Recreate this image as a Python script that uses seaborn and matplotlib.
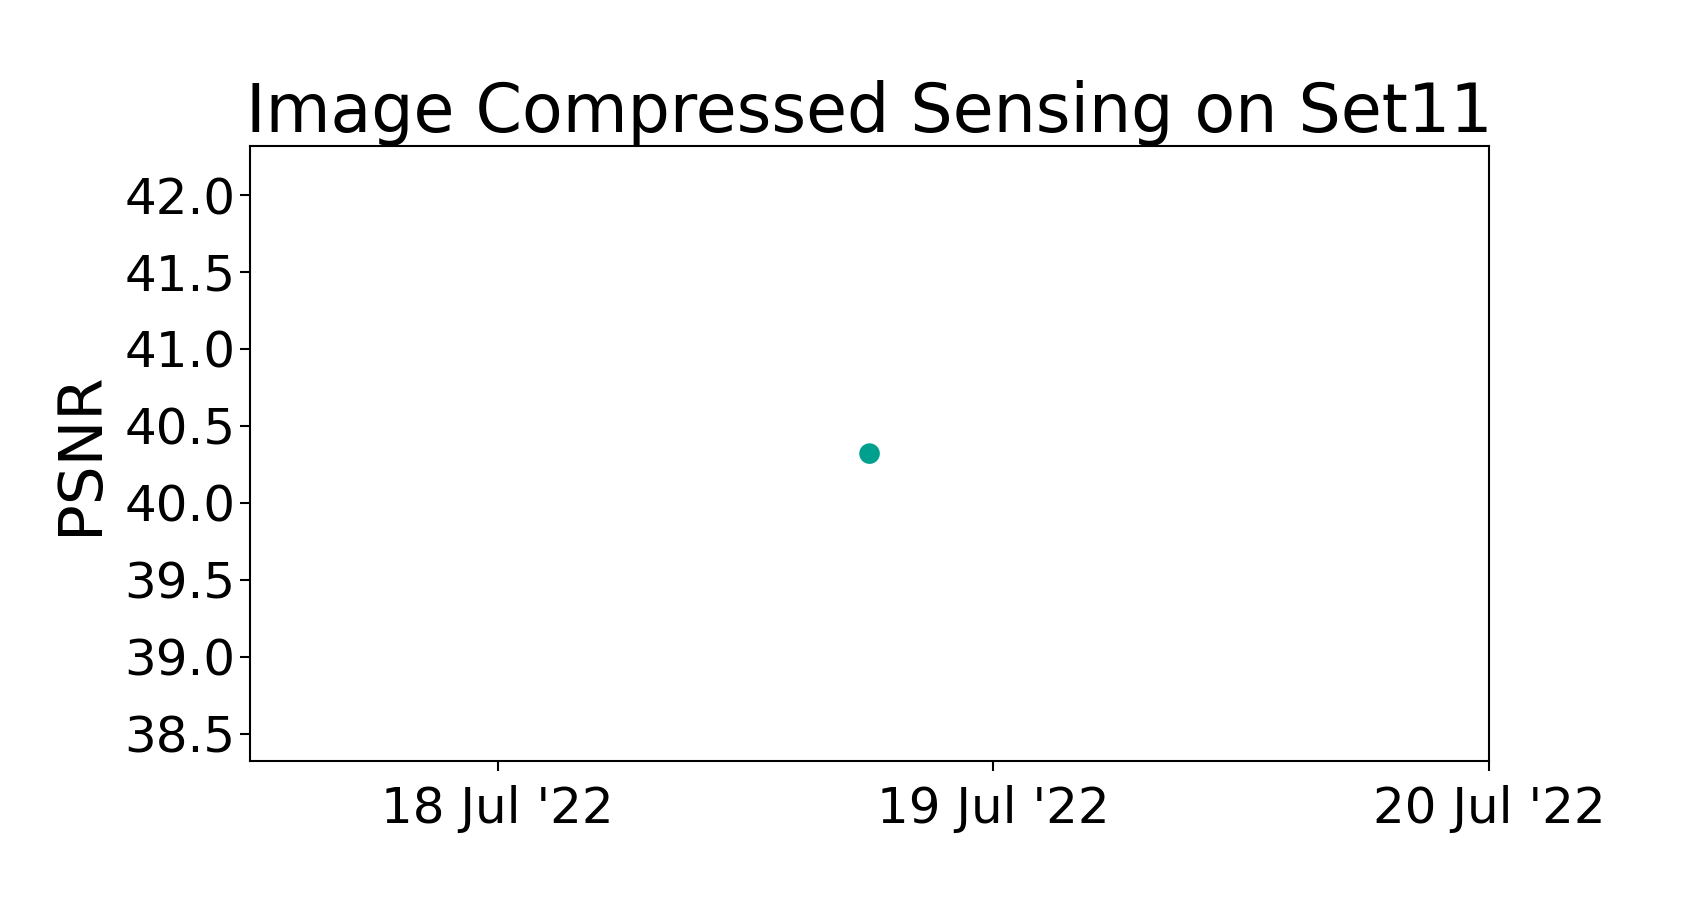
import seaborn as sns
import matplotlib.pyplot as plt
import matplotlib.dates as mdates
import matplotlib.ticker as mticker
import pandas as pd

# data
dates = ["2022-07-18 18:00"]
psnr = [40.32]
x_range = ["2022-07-17 12:00", "2022-07-20 00:00"]
tick_dates = ["2022-07-18", "2022-07-19", "2022-07-20"]

df = pd.DataFrame({"date": pd.to_datetime(dates), "PSNR": psnr})

sns.set_style("ticks")
plt.rcParams['font.family'] = ['DejaVu Sans']
plt.rcParams['text.color'] = 'black'
plt.rcParams['axes.labelcolor'] = 'black'
plt.rcParams['xtick.color'] = 'black'
plt.rcParams['ytick.color'] = 'black'
plt.rcParams['axes.edgecolor'] = 'black'

fig, ax = plt.subplots(figsize=(17, 9), dpi=100)
fig.subplots_adjust(left=0.147, right=0.876, top=0.838, bottom=0.154)

sns.scatterplot(data=df, x="date", y="PSNR", ax=ax, s=220, color="#00A08F",
                edgecolor="none", zorder=3)

ax.set_xlim(pd.to_datetime(x_range[0]), pd.to_datetime(x_range[1]))
ax.set_ylim(psnr[0] - 2, psnr[0] + 2)
ax.yaxis.set_major_locator(mticker.MultipleLocator(0.5))
ax.yaxis.set_major_formatter(mticker.FormatStrFormatter("%.1f"))
ax.set_xticks(pd.to_datetime(tick_dates))
ax.xaxis.set_major_formatter(mdates.DateFormatter("%d %b '%y"))

ax.set_title("Image Compressed Sensing on Set11", fontsize=48, color="black")
ax.set_ylabel("PSNR", fontsize=44, labelpad=10)
ax.set_xlabel("")
ax.tick_params(labelsize=36, length=7, width=1.5)
ax.tick_params(axis="x", pad=10)
for sp in ax.spines.values():
    sp.set_linewidth(1.5)

fig.savefig("out.png", dpi=100)
